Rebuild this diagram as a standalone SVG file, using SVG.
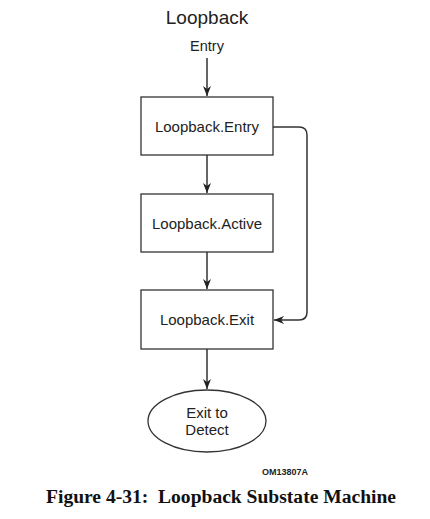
<svg xmlns="http://www.w3.org/2000/svg" width="430" height="519" viewBox="0 0 430 519">
<style>
.box{fill:#fff;stroke:#333;stroke-width:1.3}
.lbl{font-family:"Liberation Sans",Arial,sans-serif;fill:#222;text-anchor:middle}
.ln{fill:none;stroke:#333;stroke-width:1.5}
</style>
<defs>
<marker id="ah" viewBox="0 0 10 10" refX="10" refY="5" markerWidth="10" markerHeight="10" markerUnits="userSpaceOnUse" orient="auto">
<path d="M0,1 L10,5 L0,9 L3,5 Z" fill="#222"/>
</marker>
</defs>
<rect width="430" height="519" fill="#fff"/>
<text class="lbl" x="207" y="24" font-size="19">Loopback</text>
<text class="lbl" x="207" y="51" font-size="14.5">Entry</text>
<g id="connectors">
<line class="ln" x1="207" y1="58" x2="207" y2="96" marker-end="url(#ah)"/>
<line class="ln" x1="207" y1="155" x2="207" y2="193" marker-end="url(#ah)"/>
<line class="ln" x1="207" y1="252" x2="207" y2="289" marker-end="url(#ah)"/>
<line class="ln" x1="207" y1="349" x2="207" y2="389" marker-end="url(#ah)"/>
<path class="ln" d="M273,127 H299 Q307,127 307,135 V312 Q307,320 299,320 H274" marker-end="url(#ah)"/>
</g>
<g id="entry">
<rect class="box" x="141" y="97" width="132" height="58"/>
<text class="lbl" x="207" y="132" font-size="15">Loopback.Entry</text>
</g>
<g id="active">
<rect class="box" x="141" y="194" width="132" height="58"/>
<text class="lbl" x="207" y="229" font-size="15">Loopback.Active</text>
</g>
<g id="exit">
<rect class="box" x="141" y="290" width="132" height="59"/>
<text class="lbl" x="207" y="325" font-size="15">Loopback.Exit</text>
</g>
<g id="detect">
<ellipse class="box" cx="207" cy="421" rx="59" ry="31"/>
<text class="lbl" x="207" y="418" font-size="15">Exit to</text>
<text class="lbl" x="207" y="435" font-size="15">Detect</text>
</g>
<text class="lbl" x="285" y="475" font-size="9" font-weight="bold">OM13807A</text>
<text x="46" y="503" font-family="'Liberation Serif','Times New Roman',serif" font-size="18" font-weight="bold" fill="#111" textLength="350" lengthAdjust="spacingAndGlyphs" xml:space="preserve">Figure 4-31:  Loopback Substate Machine</text>
</svg>
